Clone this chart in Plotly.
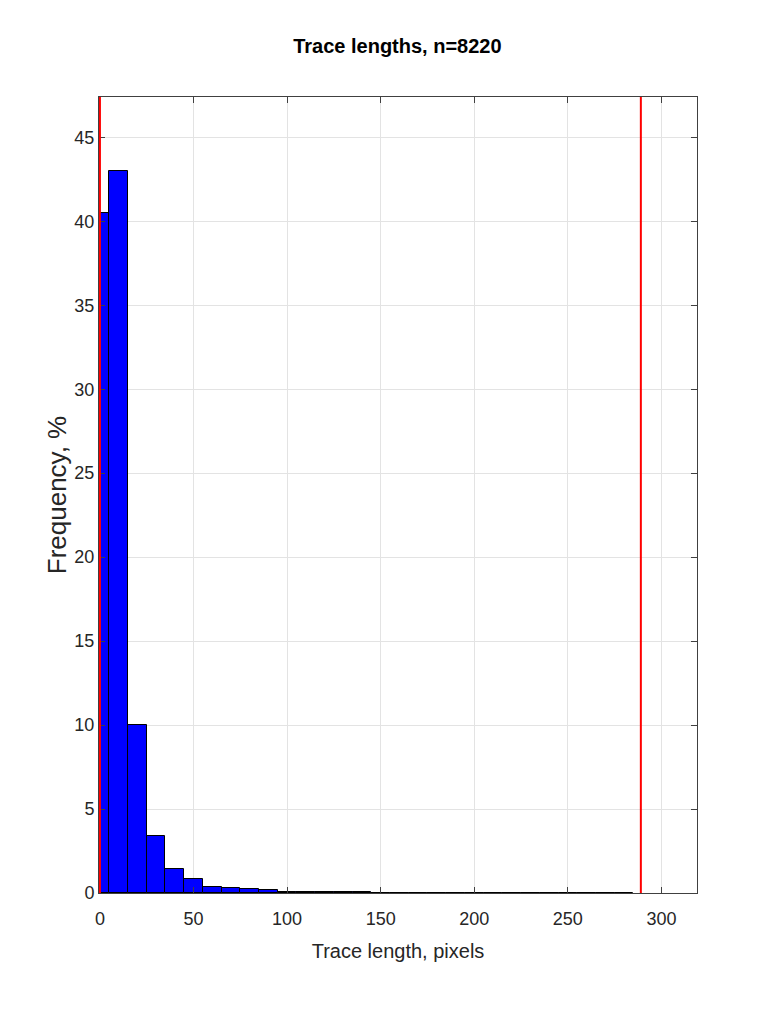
import plotly.graph_objects as go

# histogram of trace lengths, bins of 10 px (percent of n=8220)
bin_centers = [0, 10, 20, 30, 40, 50, 60, 70, 80, 90, 100, 110, 120, 130, 140,
               150, 160, 170, 180, 190, 200, 210, 220, 230, 240, 250, 260, 270, 280]
freq_pct = [40.5, 43.0, 10.0, 3.4, 1.45, 0.85, 0.37, 0.27, 0.22, 0.15, 0.08, 0.06, 0.05, 0.04, 0.05,
            0.03, 0.03, 0.02, 0.02, 0.02, 0.01, 0.02, 0.01, 0.01, 0.01, 0.01, 0.01, 0.01, 0.01]
red_lines = [0, 289]
x_ticks = [0, 50, 100, 150, 200, 250, 300]
y_ticks = [0, 5, 10, 15, 20, 25, 30, 35, 40, 45]

sans = "Liberation Sans, Arial, Helvetica"

fig = go.Figure()

fig.add_trace(go.Bar(
    x=bin_centers, y=freq_pct, width=10,
    marker=dict(color='#0000ff', line=dict(color='#000000', width=1)),
    showlegend=False
))

for xv in red_lines:
    fig.add_shape(type="line", xref="x", yref="paper", x0=xv, x1=xv, y0=0, y1=1,
                  line=dict(color="#ff0000", width=2), layer="above")

fig.update_xaxes(range=[-0.5, 319], tickvals=x_ticks, ticks="inside", ticklen=6, tickcolor='#404040',
                 showline=True, linecolor='#404040', linewidth=1, mirror='ticks',
                 showgrid=True, gridcolor='#e3e3e3', zeroline=False,
                 ticklabelstandoff=9,
                 tickfont=dict(family=sans, size=18, color='#262626'),
                 title=dict(text="Trace length, pixels", font=dict(family=sans, size=20, color='#262626'), standoff=16))

fig.update_yaxes(range=[0, 47.4], tickvals=y_ticks, ticks="inside", ticklen=6, tickcolor='#404040',
                 showline=True, linecolor='#404040', linewidth=1, mirror='ticks',
                 showgrid=True, gridcolor='#e3e3e3', zeroline=False,
                 tickfont=dict(family=sans, size=18, color='#262626'),
                 title=dict(text="Frequency, %", font=dict(family=sans, size=26, color='#262626'), standoff=0))

fig.update_layout(
    width=768, height=1024,
    margin=dict(l=91, r=79, t=89, b=139),
    paper_bgcolor='white', plot_bgcolor='white',
    bargap=0,
    title=dict(text="<b>Trace lengths, n=8220</b>", x=0.507, xanchor='center', y=1 - 37.7 / 1024, yanchor='middle',
               font=dict(family=sans, size=20, color='#000000'))
)

fig.write_html("out.html")
